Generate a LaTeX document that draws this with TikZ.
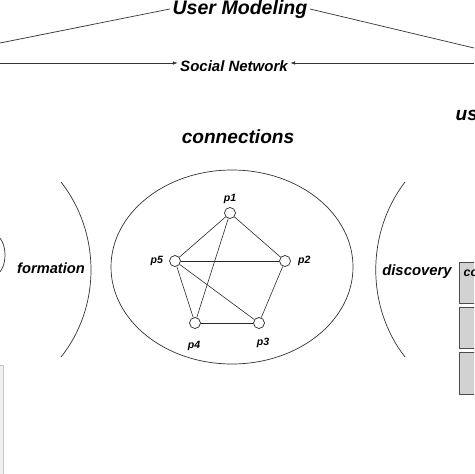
\documentclass[tikz,border=0pt]{standalone}
\usepackage{fontspec}
\setmainfont{Liberation Sans}
\usetikzlibrary{arrows.meta}

\begin{document}
\begin{tikzpicture}[x=0.03cm, y=-0.03cm, >=Latex, line width=0.6pt,
    lbl/.style={font=\bfseries\itshape\fontsize{#1}{#1}\selectfont, inner sep=2pt},
    peer/.style={circle, draw=gray!30!black, fill=white, minimum size=0.33cm, inner sep=0pt},
    link/.style={draw=gray!30!black, line width=0.5pt},
    curve/.style={draw=gray!40!black, line width=0.6pt},
    panel/.style={draw=gray!60!black, fill=gray!35, line width=0.6pt}]
    \useasboundingbox (0,0) rectangle (474,474);
    \clip (0,0) rectangle (474,474);

    % titel oben und die zwei schraegen linien
    \node[lbl=16.7] (um) at (240,9) {User Modeling};
    \coordinate (umL) at (0,43);
    \coordinate (umR) at (474,48);
    \draw[curve] (um.west) -- (umL);
    \draw[curve] (um.east) -- (umR);

    % soziales netz mit pfeilen
    \node[lbl=12.8] (sn) at (234,66) {Social Network};
    \coordinate (snL) at (0,63);
    \coordinate (snR) at (474,63);
    \draw[curve, -{Latex[length=1.4mm, width=1.1mm]}] (snL) -- (sn.west |- snL);
    \draw[curve, -{Latex[length=1.4mm, width=1.1mm]}] (snR) -- (sn.east |- snR);

    % ueberschriften
    \node[lbl=16.3] (conn) at (238,137) {connections};
    \node[lbl=16.3, anchor=west] (usr) at (453,115) {us};

    % grosse ellipse um das netz
    \draw[curve] (232,267) ellipse [x radius=121, y radius=97];

    % die fuenf personen
    \node[peer] (p1) at (230,213) {};
    \node[peer] (p2) at (285,261) {};
    \node[peer] (p3) at (259,323) {};
    \node[peer] (p4) at (195,323) {};
    \node[peer] (p5) at (175,261) {};
    \node[lbl=9, above=1pt] at (p1.north) {p1};
    \node[lbl=9, right=4pt] at (p2.east) {p2};
    \node[lbl=9, anchor=north] at (263,335) {p3};
    \node[lbl=9, anchor=north] at (194,339) {p4};
    \node[lbl=9, left=3pt] at (p5.west) {p5};

    \foreach \a/\b in {p1/p2, p1/p5, p1/p4, p5/p2, p5/p3, p5/p4, p4/p3, p3/p2}
        \draw[link] (\a) -- (\b);

    % klammern links
    \coordinate (fT) at (61,182);
    \coordinate (fB) at (61,357);
    \draw[curve] (fT) .. controls (101,233) and (101,307) .. (fB);
    \draw[curve] (-6,255) ellipse [x radius=11, y radius=20];
    \node[lbl=12.5] (form) at (51,268) {formation};

    % klammer rechts
    \coordinate (dT) at (405,182);
    \coordinate (dB) at (405,357);
    \draw[curve] (dT) .. controls (366,233) and (366,307) .. (dB);
    \node[lbl=12.7] (disc) at (417,272) {discovery};

    % graue kaesten am rand
    \draw[panel] (459,262) rectangle (500,303);
    \draw[panel] (459,307) rectangle (500,348);
    \draw[panel] (459,352) rectangle (500,394);
    \node[lbl=10.5, anchor=west] (co) at (461,273) {co};
    \draw[draw=gray!45, fill=gray!12] (-10,365) rectangle (3,480);

\end{tikzpicture}
\end{document}
